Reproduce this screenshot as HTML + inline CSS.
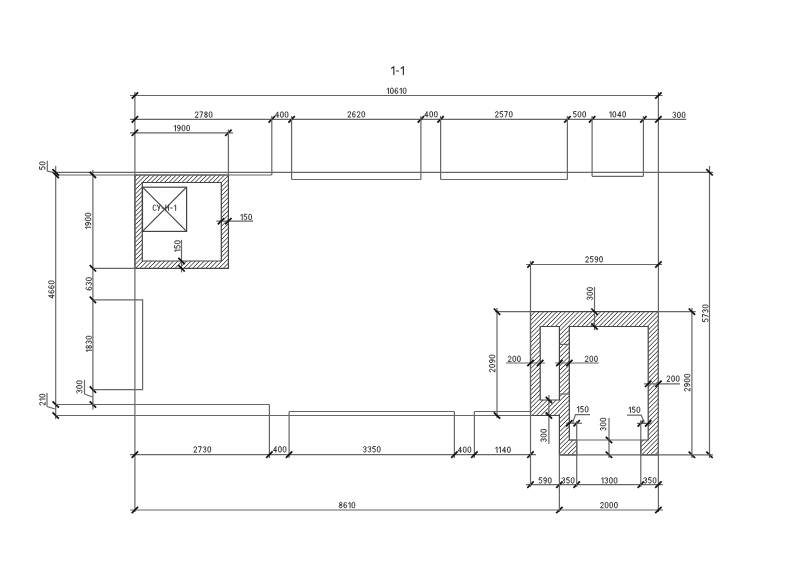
<!DOCTYPE html>
<html><head><meta charset="utf-8"><style>
html,body{margin:0;padding:0;background:#fff;}
svg{display:block;will-change:transform;}
.l{stroke:#666;stroke-width:1.2;fill:none;}
.w{stroke:#444;stroke-width:1.2;fill:none;}
.t{stroke:#111;stroke-width:1.7;}
.g path{fill:none;stroke:#333;vector-effect:non-scaling-stroke;stroke-linecap:round;stroke-linejoin:round;}
</style></head><body>
<svg width="799" height="565" viewBox="0 0 799 565">
<defs>
<pattern id="hatch" patternUnits="userSpaceOnUse" width="3.1" height="10" patternTransform="rotate(45)">
<line x1="0" y1="0" x2="0" y2="10" stroke="#2e2e2e" stroke-width="1.4"/>
</pattern>
</defs>
<rect width="799" height="565" fill="#fff"/>
<path d="M134.9,175.0 H228.4 V268.3 H134.9 Z M142.3,182.5 V261.0 H221.3 V182.5 Z" fill="url(#hatch)" fill-rule="evenodd" stroke="none"/>
<path d="M530.5,311.7 H658.4 V454.8 H640.8 V440.0 H648.2 V326.5 H569.3 V440.0 H576.7 V454.8 H559.4 V415.5 H530.5 Z M540.2,326.5 H559.4 V400.0 H540.2 Z" fill="url(#hatch)" fill-rule="evenodd" stroke="none"/>
<path class="w" d="M134.9,175.0 H228.4 V268.3 H134.9 Z M142.3,182.5 V261.0 H221.3 V182.5 Z" fill="none"/>
<path class="w" d="M530.5,311.7 H658.4 V454.8 H640.8 V440.0 H648.2 V326.5 H569.3 V440.0 H576.7 V454.8 H559.4 V415.5 H530.5 Z M540.2,326.5 H559.4 V400.0 H540.2 Z" fill="none"/>
<line class="l" x1="134.90" y1="92.00" x2="134.90" y2="512.00"/>
<line class="l" x1="658.40" y1="92.00" x2="658.40" y2="512.00"/>
<line class="l" x1="130.00" y1="95.50" x2="662.50" y2="95.50"/>
<line class="t" x1="131.70" y1="98.70" x2="138.10" y2="92.30"/>
<line class="t" x1="655.20" y1="98.70" x2="661.60" y2="92.30"/>
<g class="g" style="stroke-width:0.95"><path transform="translate(387.07,88.05) scale(1.000,0.917)" d="M0,1.3 L1.5,0 L1.5,6"/><path transform="translate(390.47,88.05) scale(0.917,0.917)" d="M0,1.4 Q0,0 1.5,0 Q3,0 3,1.4 L3,4.6 Q3,6 1.5,6 Q0,6 0,4.6 Z"/><path transform="translate(395.12,88.05) scale(0.917,0.917)" d="M2.8,0.5 Q2.3,0 1.5,0 Q0,0 0,3.2 L0,4.4 Q0,6 1.5,6 Q3,6 3,4.3 Q3,2.6 1.5,2.6 Q0.4,2.6 0,3.4"/><path transform="translate(399.77,88.05) scale(1.000,0.917)" d="M0,1.3 L1.5,0 L1.5,6"/><path transform="translate(403.17,88.05) scale(0.917,0.917)" d="M0,1.4 Q0,0 1.5,0 Q3,0 3,1.4 L3,4.6 Q3,6 1.5,6 Q0,6 0,4.6 Z"/></g>
<line class="l" x1="130.00" y1="119.40" x2="686.30" y2="119.40"/>
<line class="t" x1="131.70" y1="122.60" x2="138.10" y2="116.20"/>
<line class="t" x1="268.60" y1="122.60" x2="275.00" y2="116.20"/>
<line class="t" x1="288.40" y1="122.60" x2="294.80" y2="116.20"/>
<line class="t" x1="417.70" y1="122.60" x2="424.10" y2="116.20"/>
<line class="t" x1="437.40" y1="122.60" x2="443.80" y2="116.20"/>
<line class="t" x1="564.20" y1="122.60" x2="570.60" y2="116.20"/>
<line class="t" x1="588.90" y1="122.60" x2="595.30" y2="116.20"/>
<line class="t" x1="640.20" y1="122.60" x2="646.60" y2="116.20"/>
<line class="t" x1="655.20" y1="122.60" x2="661.60" y2="116.20"/>
<g class="g" style="stroke-width:0.95"><path transform="translate(195.28,111.85) scale(0.917,0.917)" d="M0,1.3 Q0.2,0 1.5,0 Q3,0 3,1.5 Q3,2.5 2,3.5 L0,6 L3,6"/><path transform="translate(199.93,111.85) scale(0.917,0.917)" d="M0,0 L3,0 L0.9,6"/><path transform="translate(204.58,111.85) scale(0.917,0.917)" d="M1.5,2.8 Q0.1,2.8 0.1,1.4 Q0.1,0 1.5,0 Q2.9,0 2.9,1.4 Q2.9,2.8 1.5,2.8 Q0,2.8 0,4.4 Q0,6 1.5,6 Q3,6 3,4.4 Q3,2.8 1.5,2.8 Z"/><path transform="translate(209.23,111.85) scale(0.917,0.917)" d="M0,1.4 Q0,0 1.5,0 Q3,0 3,1.4 L3,4.6 Q3,6 1.5,6 Q0,6 0,4.6 Z"/></g>
<g class="g" style="stroke-width:0.95"><path transform="translate(275.35,111.85) scale(1.082,0.917)" d="M2.3,6 L2.3,0 L0,4.3 L3,4.3"/><path transform="translate(280.50,111.85) scale(0.917,0.917)" d="M0,1.4 Q0,0 1.5,0 Q3,0 3,1.4 L3,4.6 Q3,6 1.5,6 Q0,6 0,4.6 Z"/><path transform="translate(285.15,111.85) scale(0.917,0.917)" d="M0,1.4 Q0,0 1.5,0 Q3,0 3,1.4 L3,4.6 Q3,6 1.5,6 Q0,6 0,4.6 Z"/></g>
<g class="g" style="stroke-width:0.95"><path transform="translate(347.90,111.55) scale(0.917,0.917)" d="M0,1.3 Q0.2,0 1.5,0 Q3,0 3,1.5 Q3,2.5 2,3.5 L0,6 L3,6"/><path transform="translate(352.55,111.55) scale(0.917,0.917)" d="M2.8,0.5 Q2.3,0 1.5,0 Q0,0 0,3.2 L0,4.4 Q0,6 1.5,6 Q3,6 3,4.3 Q3,2.6 1.5,2.6 Q0.4,2.6 0,3.4"/><path transform="translate(357.20,111.55) scale(0.917,0.917)" d="M0,1.3 Q0.2,0 1.5,0 Q3,0 3,1.5 Q3,2.5 2,3.5 L0,6 L3,6"/><path transform="translate(361.85,111.55) scale(0.917,0.917)" d="M0,1.4 Q0,0 1.5,0 Q3,0 3,1.4 L3,4.6 Q3,6 1.5,6 Q0,6 0,4.6 Z"/></g>
<g class="g" style="stroke-width:0.95"><path transform="translate(424.60,111.55) scale(1.082,0.917)" d="M2.3,6 L2.3,0 L0,4.3 L3,4.3"/><path transform="translate(429.75,111.55) scale(0.917,0.917)" d="M0,1.4 Q0,0 1.5,0 Q3,0 3,1.4 L3,4.6 Q3,6 1.5,6 Q0,6 0,4.6 Z"/><path transform="translate(434.40,111.55) scale(0.917,0.917)" d="M0,1.4 Q0,0 1.5,0 Q3,0 3,1.4 L3,4.6 Q3,6 1.5,6 Q0,6 0,4.6 Z"/></g>
<g class="g" style="stroke-width:0.95"><path transform="translate(495.40,111.55) scale(0.917,0.917)" d="M0,1.3 Q0.2,0 1.5,0 Q3,0 3,1.5 Q3,2.5 2,3.5 L0,6 L3,6"/><path transform="translate(500.05,111.55) scale(0.917,0.917)" d="M2.9,0 L0.3,0 L0.1,2.6 Q0.6,2.2 1.5,2.2 Q3,2.2 3,4.1 Q3,6 1.5,6 Q0.4,6 0,5.1"/><path transform="translate(504.70,111.55) scale(0.917,0.917)" d="M0,0 L3,0 L0.9,6"/><path transform="translate(509.35,111.55) scale(0.917,0.917)" d="M0,1.4 Q0,0 1.5,0 Q3,0 3,1.4 L3,4.6 Q3,6 1.5,6 Q0,6 0,4.6 Z"/></g>
<g class="g" style="stroke-width:0.95"><path transform="translate(573.48,111.55) scale(0.917,0.917)" d="M2.9,0 L0.3,0 L0.1,2.6 Q0.6,2.2 1.5,2.2 Q3,2.2 3,4.1 Q3,6 1.5,6 Q0.4,6 0,5.1"/><path transform="translate(578.12,111.55) scale(0.917,0.917)" d="M0,1.4 Q0,0 1.5,0 Q3,0 3,1.4 L3,4.6 Q3,6 1.5,6 Q0,6 0,4.6 Z"/><path transform="translate(582.77,111.55) scale(0.917,0.917)" d="M0,1.4 Q0,0 1.5,0 Q3,0 3,1.4 L3,4.6 Q3,6 1.5,6 Q0,6 0,4.6 Z"/></g>
<g class="g" style="stroke-width:0.95"><path transform="translate(609.53,111.55) scale(1.000,0.917)" d="M0,1.3 L1.5,0 L1.5,6"/><path transform="translate(612.93,111.55) scale(0.917,0.917)" d="M0,1.4 Q0,0 1.5,0 Q3,0 3,1.4 L3,4.6 Q3,6 1.5,6 Q0,6 0,4.6 Z"/><path transform="translate(617.58,111.55) scale(1.082,0.917)" d="M2.3,6 L2.3,0 L0,4.3 L3,4.3"/><path transform="translate(622.72,111.55) scale(0.917,0.917)" d="M0,1.4 Q0,0 1.5,0 Q3,0 3,1.4 L3,4.6 Q3,6 1.5,6 Q0,6 0,4.6 Z"/></g>
<g class="g" style="stroke-width:0.95"><path transform="translate(672.90,112.15) scale(0.917,0.917)" d="M0,0.9 Q0.4,0 1.5,0 Q3,0 3,1.4 Q3,2.8 1.3,2.8 L1.5,2.8 Q3,2.8 3,4.4 Q3,6 1.5,6 Q0.4,6 0,5.1"/><path transform="translate(677.55,112.15) scale(0.917,0.917)" d="M0,1.4 Q0,0 1.5,0 Q3,0 3,1.4 L3,4.6 Q3,6 1.5,6 Q0,6 0,4.6 Z"/><path transform="translate(682.20,112.15) scale(0.917,0.917)" d="M0,1.4 Q0,0 1.5,0 Q3,0 3,1.4 L3,4.6 Q3,6 1.5,6 Q0,6 0,4.6 Z"/></g>
<line class="l" x1="130.00" y1="132.80" x2="233.00" y2="132.80"/>
<line class="t" x1="131.70" y1="136.00" x2="138.10" y2="129.60"/>
<line class="t" x1="225.20" y1="136.00" x2="231.60" y2="129.60"/>
<g class="g" style="stroke-width:0.95"><path transform="translate(174.03,125.30) scale(1.000,0.917)" d="M0,1.3 L1.5,0 L1.5,6"/><path transform="translate(177.43,125.30) scale(0.917,0.917)" d="M0.3,5.4 Q0.8,6 1.5,6 Q3,6 3,3 L3,1.7 Q3,0 1.5,0 Q0,0 0,1.8 Q0,3.5 1.5,3.5 Q2.7,3.5 3,2.5"/><path transform="translate(182.08,125.30) scale(0.917,0.917)" d="M0,1.4 Q0,0 1.5,0 Q3,0 3,1.4 L3,4.6 Q3,6 1.5,6 Q0,6 0,4.6 Z"/><path transform="translate(186.73,125.30) scale(0.917,0.917)" d="M0,1.4 Q0,0 1.5,0 Q3,0 3,1.4 L3,4.6 Q3,6 1.5,6 Q0,6 0,4.6 Z"/></g>
<line class="l" x1="228.40" y1="129.50" x2="228.40" y2="175.00"/>
<line class="l" x1="271.80" y1="116.00" x2="271.80" y2="175.00"/>
<line class="l" x1="291.60" y1="116.00" x2="291.60" y2="179.50"/>
<line class="l" x1="420.90" y1="116.00" x2="420.90" y2="179.50"/>
<line class="l" x1="440.60" y1="116.00" x2="440.60" y2="179.50"/>
<line class="l" x1="567.40" y1="116.00" x2="567.40" y2="179.50"/>
<line class="l" x1="592.10" y1="116.00" x2="592.10" y2="176.30"/>
<line class="l" x1="643.40" y1="116.00" x2="643.40" y2="176.30"/>
<line class="l" x1="55.70" y1="172.30" x2="713.00" y2="172.30"/>
<line class="l" x1="55.70" y1="175.00" x2="271.80" y2="175.00"/>
<line class="l" x1="291.60" y1="179.50" x2="420.90" y2="179.50"/>
<line class="l" x1="440.60" y1="179.50" x2="567.40" y2="179.50"/>
<line class="l" x1="592.10" y1="176.30" x2="643.40" y2="176.30"/>
<rect class="w" x="142.5" y="187.2" width="44.1" height="44.2" fill="none"/>
<line class="w" x1="142.50" y1="187.20" x2="186.60" y2="231.40"/>
<line class="w" x1="186.60" y1="187.20" x2="142.50" y2="231.40"/>
<g class="g" style="stroke-width:0.9"><path transform="translate(153.15,205.00) scale(0.933,0.917)" d="M3,1 Q2.6,0 1.5,0 Q0,0 0,2 L0,4 Q0,6 1.5,6 Q2.6,6 3,5"/><path transform="translate(157.35,205.00) scale(0.933,0.917)" d="M0,0 L1.5,3.6 M3,0 L1.2,6"/><path transform="translate(161.55,205.00) scale(0.933,0.917)" d="M0.6,3.3 L2.4,3.3"/><path transform="translate(165.75,205.00) scale(0.933,0.917)" d="M0,0 L0,6 M3,0 L3,6 M0,3 L3,3"/><path transform="translate(169.95,205.00) scale(0.933,0.917)" d="M0.6,3.3 L2.4,3.3"/><path transform="translate(174.15,205.00) scale(1.000,0.917)" d="M0,1.3 L1.5,0 L1.5,6"/></g>
<line class="l" x1="216.40" y1="221.20" x2="253.00" y2="221.20"/>
<line class="t" x1="217.80" y1="224.40" x2="224.20" y2="218.00"/>
<line class="t" x1="225.20" y1="224.40" x2="231.60" y2="218.00"/>
<g class="g" style="stroke-width:0.95"><path transform="translate(240.70,214.25) scale(1.000,0.917)" d="M0,1.3 L1.5,0 L1.5,6"/><path transform="translate(244.10,214.25) scale(0.917,0.917)" d="M2.9,0 L0.3,0 L0.1,2.6 Q0.6,2.2 1.5,2.2 Q3,2.2 3,4.1 Q3,6 1.5,6 Q0.4,6 0,5.1"/><path transform="translate(248.75,214.25) scale(0.917,0.917)" d="M0,1.4 Q0,0 1.5,0 Q3,0 3,1.4 L3,4.6 Q3,6 1.5,6 Q0,6 0,4.6 Z"/></g>
<line class="l" x1="181.50" y1="239.80" x2="181.50" y2="272.40"/>
<line class="t" x1="178.30" y1="257.80" x2="184.70" y2="264.20"/>
<line class="t" x1="178.30" y1="265.10" x2="184.70" y2="271.50"/>
<g class="g" style="stroke-width:0.95" transform="translate(180.60,246.25) rotate(-90)"><path transform="translate(-5.40,-5.95) scale(1.000,0.917)" d="M0,1.3 L1.5,0 L1.5,6"/><path transform="translate(-2.00,-5.95) scale(0.917,0.917)" d="M2.9,0 L0.3,0 L0.1,2.6 Q0.6,2.2 1.5,2.2 Q3,2.2 3,4.1 Q3,6 1.5,6 Q0.4,6 0,5.1"/><path transform="translate(2.65,-5.95) scale(0.917,0.917)" d="M0,1.4 Q0,0 1.5,0 Q3,0 3,1.4 L3,4.6 Q3,6 1.5,6 Q0,6 0,4.6 Z"/></g>
<line class="l" x1="55.70" y1="166.00" x2="55.70" y2="419.00"/>
<line class="t" x1="52.50" y1="169.10" x2="58.90" y2="175.50"/>
<line class="t" x1="52.50" y1="171.80" x2="58.90" y2="178.20"/>
<line class="t" x1="52.50" y1="401.30" x2="58.90" y2="407.70"/>
<line class="t" x1="52.50" y1="412.30" x2="58.90" y2="418.70"/>
<g class="g" style="stroke-width:0.95" transform="translate(45.50,165.75) rotate(-90)"><path transform="translate(-3.70,-5.95) scale(0.917,0.917)" d="M2.9,0 L0.3,0 L0.1,2.6 Q0.6,2.2 1.5,2.2 Q3,2.2 3,4.1 Q3,6 1.5,6 Q0.4,6 0,5.1"/><path transform="translate(0.95,-5.95) scale(0.917,0.917)" d="M0,1.4 Q0,0 1.5,0 Q3,0 3,1.4 L3,4.6 Q3,6 1.5,6 Q0,6 0,4.6 Z"/></g>
<line class="l" x1="47.30" y1="160.70" x2="47.30" y2="171.20"/>
<line class="l" x1="47.30" y1="171.20" x2="53.80" y2="172.50"/>
<g class="g" style="stroke-width:0.95" transform="translate(54.50,289.62) rotate(-90)"><path transform="translate(-8.60,-5.95) scale(1.082,0.917)" d="M2.3,6 L2.3,0 L0,4.3 L3,4.3"/><path transform="translate(-3.45,-5.95) scale(0.917,0.917)" d="M2.8,0.5 Q2.3,0 1.5,0 Q0,0 0,3.2 L0,4.4 Q0,6 1.5,6 Q3,6 3,4.3 Q3,2.6 1.5,2.6 Q0.4,2.6 0,3.4"/><path transform="translate(1.20,-5.95) scale(0.917,0.917)" d="M2.8,0.5 Q2.3,0 1.5,0 Q0,0 0,3.2 L0,4.4 Q0,6 1.5,6 Q3,6 3,4.3 Q3,2.6 1.5,2.6 Q0.4,2.6 0,3.4"/><path transform="translate(5.85,-5.95) scale(0.917,0.917)" d="M0,1.4 Q0,0 1.5,0 Q3,0 3,1.4 L3,4.6 Q3,6 1.5,6 Q0,6 0,4.6 Z"/></g>
<g class="g" style="stroke-width:0.95" transform="translate(45.50,399.75) rotate(-90)"><path transform="translate(-5.40,-5.95) scale(0.917,0.917)" d="M0,1.3 Q0.2,0 1.5,0 Q3,0 3,1.5 Q3,2.5 2,3.5 L0,6 L3,6"/><path transform="translate(-0.75,-5.95) scale(1.000,0.917)" d="M0,1.3 L1.5,0 L1.5,6"/><path transform="translate(2.65,-5.95) scale(0.917,0.917)" d="M0,1.4 Q0,0 1.5,0 Q3,0 3,1.4 L3,4.6 Q3,6 1.5,6 Q0,6 0,4.6 Z"/></g>
<line class="l" x1="47.00" y1="393.00" x2="47.00" y2="406.50"/>
<line class="l" x1="47.00" y1="406.50" x2="55.00" y2="409.00"/>
<line class="l" x1="92.90" y1="170.00" x2="92.90" y2="409.50"/>
<line class="t" x1="89.70" y1="171.80" x2="96.10" y2="178.20"/>
<line class="t" x1="89.70" y1="265.10" x2="96.10" y2="271.50"/>
<line class="t" x1="89.70" y1="296.70" x2="96.10" y2="303.10"/>
<line class="t" x1="89.70" y1="386.40" x2="96.10" y2="392.80"/>
<line class="t" x1="89.70" y1="401.30" x2="96.10" y2="407.70"/>
<g class="g" style="stroke-width:0.95" transform="translate(91.25,221.00) rotate(-90)"><path transform="translate(-7.72,-5.95) scale(1.000,0.917)" d="M0,1.3 L1.5,0 L1.5,6"/><path transform="translate(-4.32,-5.95) scale(0.917,0.917)" d="M0.3,5.4 Q0.8,6 1.5,6 Q3,6 3,3 L3,1.7 Q3,0 1.5,0 Q0,0 0,1.8 Q0,3.5 1.5,3.5 Q2.7,3.5 3,2.5"/><path transform="translate(0.33,-5.95) scale(0.917,0.917)" d="M0,1.4 Q0,0 1.5,0 Q3,0 3,1.4 L3,4.6 Q3,6 1.5,6 Q0,6 0,4.6 Z"/><path transform="translate(4.98,-5.95) scale(0.917,0.917)" d="M0,1.4 Q0,0 1.5,0 Q3,0 3,1.4 L3,4.6 Q3,6 1.5,6 Q0,6 0,4.6 Z"/></g>
<g class="g" style="stroke-width:0.95" transform="translate(92.00,283.85) rotate(-90)"><path transform="translate(-6.03,-5.95) scale(0.917,0.917)" d="M2.8,0.5 Q2.3,0 1.5,0 Q0,0 0,3.2 L0,4.4 Q0,6 1.5,6 Q3,6 3,4.3 Q3,2.6 1.5,2.6 Q0.4,2.6 0,3.4"/><path transform="translate(-1.38,-5.95) scale(0.917,0.917)" d="M0,0.9 Q0.4,0 1.5,0 Q3,0 3,1.4 Q3,2.8 1.3,2.8 L1.5,2.8 Q3,2.8 3,4.4 Q3,6 1.5,6 Q0.4,6 0,5.1"/><path transform="translate(3.28,-5.95) scale(0.917,0.917)" d="M0,1.4 Q0,0 1.5,0 Q3,0 3,1.4 L3,4.6 Q3,6 1.5,6 Q0,6 0,4.6 Z"/></g>
<g class="g" style="stroke-width:0.95" transform="translate(92.00,344.00) rotate(-90)"><path transform="translate(-7.72,-5.95) scale(1.000,0.917)" d="M0,1.3 L1.5,0 L1.5,6"/><path transform="translate(-4.32,-5.95) scale(0.917,0.917)" d="M1.5,2.8 Q0.1,2.8 0.1,1.4 Q0.1,0 1.5,0 Q2.9,0 2.9,1.4 Q2.9,2.8 1.5,2.8 Q0,2.8 0,4.4 Q0,6 1.5,6 Q3,6 3,4.4 Q3,2.8 1.5,2.8 Z"/><path transform="translate(0.33,-5.95) scale(0.917,0.917)" d="M0,0.9 Q0.4,0 1.5,0 Q3,0 3,1.4 Q3,2.8 1.3,2.8 L1.5,2.8 Q3,2.8 3,4.4 Q3,6 1.5,6 Q0.4,6 0,5.1"/><path transform="translate(4.98,-5.95) scale(0.917,0.917)" d="M0,1.4 Q0,0 1.5,0 Q3,0 3,1.4 L3,4.6 Q3,6 1.5,6 Q0,6 0,4.6 Z"/></g>
<g class="g" style="stroke-width:0.95" transform="translate(82.50,387.00) rotate(-90)"><path transform="translate(-6.03,-5.95) scale(0.917,0.917)" d="M0,0.9 Q0.4,0 1.5,0 Q3,0 3,1.4 Q3,2.8 1.3,2.8 L1.5,2.8 Q3,2.8 3,4.4 Q3,6 1.5,6 Q0.4,6 0,5.1"/><path transform="translate(-1.38,-5.95) scale(0.917,0.917)" d="M0,1.4 Q0,0 1.5,0 Q3,0 3,1.4 L3,4.6 Q3,6 1.5,6 Q0,6 0,4.6 Z"/><path transform="translate(3.28,-5.95) scale(0.917,0.917)" d="M0,1.4 Q0,0 1.5,0 Q3,0 3,1.4 L3,4.6 Q3,6 1.5,6 Q0,6 0,4.6 Z"/></g>
<line class="l" x1="84.50" y1="380.00" x2="84.50" y2="394.00"/>
<line class="l" x1="84.50" y1="394.00" x2="92.50" y2="397.00"/>
<line class="l" x1="92.90" y1="268.30" x2="134.90" y2="268.30"/>
<polyline class="l" points="92.90,299.90 142.60,299.90 142.60,389.60 92.90,389.60"/>
<line class="l" x1="55.70" y1="404.50" x2="269.40" y2="404.50"/>
<line class="l" x1="269.40" y1="404.50" x2="269.40" y2="458.00"/>
<line class="l" x1="55.70" y1="415.50" x2="530.50" y2="415.50"/>
<line class="l" x1="289.10" y1="411.50" x2="289.10" y2="458.00"/>
<line class="l" x1="289.10" y1="411.50" x2="454.40" y2="411.50"/>
<line class="l" x1="454.40" y1="411.50" x2="454.40" y2="458.00"/>
<line class="l" x1="474.40" y1="411.50" x2="474.40" y2="458.00"/>
<line class="l" x1="474.40" y1="411.50" x2="530.50" y2="411.50"/>
<line class="l" x1="130.00" y1="454.60" x2="536.00" y2="454.60"/>
<line class="t" x1="131.70" y1="457.80" x2="138.10" y2="451.40"/>
<line class="t" x1="266.20" y1="457.80" x2="272.60" y2="451.40"/>
<line class="t" x1="285.90" y1="457.80" x2="292.30" y2="451.40"/>
<line class="t" x1="451.20" y1="457.80" x2="457.60" y2="451.40"/>
<line class="t" x1="471.20" y1="457.80" x2="477.60" y2="451.40"/>
<line class="t" x1="527.30" y1="457.80" x2="533.70" y2="451.40"/>
<g class="g" style="stroke-width:0.95"><path transform="translate(193.90,446.65) scale(0.917,0.917)" d="M0,1.3 Q0.2,0 1.5,0 Q3,0 3,1.5 Q3,2.5 2,3.5 L0,6 L3,6"/><path transform="translate(198.55,446.65) scale(0.917,0.917)" d="M0,0 L3,0 L0.9,6"/><path transform="translate(203.20,446.65) scale(0.917,0.917)" d="M0,0.9 Q0.4,0 1.5,0 Q3,0 3,1.4 Q3,2.8 1.3,2.8 L1.5,2.8 Q3,2.8 3,4.4 Q3,6 1.5,6 Q0.4,6 0,5.1"/><path transform="translate(207.85,446.65) scale(0.917,0.917)" d="M0,1.4 Q0,0 1.5,0 Q3,0 3,1.4 L3,4.6 Q3,6 1.5,6 Q0,6 0,4.6 Z"/></g>
<g class="g" style="stroke-width:0.95"><path transform="translate(273.38,446.55) scale(1.082,0.917)" d="M2.3,6 L2.3,0 L0,4.3 L3,4.3"/><path transform="translate(278.52,446.55) scale(0.917,0.917)" d="M0,1.4 Q0,0 1.5,0 Q3,0 3,1.4 L3,4.6 Q3,6 1.5,6 Q0,6 0,4.6 Z"/><path transform="translate(283.17,446.55) scale(0.917,0.917)" d="M0,1.4 Q0,0 1.5,0 Q3,0 3,1.4 L3,4.6 Q3,6 1.5,6 Q0,6 0,4.6 Z"/></g>
<g class="g" style="stroke-width:0.95"><path transform="translate(363.40,446.55) scale(0.917,0.917)" d="M0,0.9 Q0.4,0 1.5,0 Q3,0 3,1.4 Q3,2.8 1.3,2.8 L1.5,2.8 Q3,2.8 3,4.4 Q3,6 1.5,6 Q0.4,6 0,5.1"/><path transform="translate(368.05,446.55) scale(0.917,0.917)" d="M0,0.9 Q0.4,0 1.5,0 Q3,0 3,1.4 Q3,2.8 1.3,2.8 L1.5,2.8 Q3,2.8 3,4.4 Q3,6 1.5,6 Q0.4,6 0,5.1"/><path transform="translate(372.70,446.55) scale(0.917,0.917)" d="M2.9,0 L0.3,0 L0.1,2.6 Q0.6,2.2 1.5,2.2 Q3,2.2 3,4.1 Q3,6 1.5,6 Q0.4,6 0,5.1"/><path transform="translate(377.35,446.55) scale(0.917,0.917)" d="M0,1.4 Q0,0 1.5,0 Q3,0 3,1.4 L3,4.6 Q3,6 1.5,6 Q0,6 0,4.6 Z"/></g>
<g class="g" style="stroke-width:0.95"><path transform="translate(458.18,446.95) scale(1.082,0.917)" d="M2.3,6 L2.3,0 L0,4.3 L3,4.3"/><path transform="translate(463.32,446.95) scale(0.917,0.917)" d="M0,1.4 Q0,0 1.5,0 Q3,0 3,1.4 L3,4.6 Q3,6 1.5,6 Q0,6 0,4.6 Z"/><path transform="translate(467.97,446.95) scale(0.917,0.917)" d="M0,1.4 Q0,0 1.5,0 Q3,0 3,1.4 L3,4.6 Q3,6 1.5,6 Q0,6 0,4.6 Z"/></g>
<g class="g" style="stroke-width:0.95"><path transform="translate(495.55,446.95) scale(1.000,0.917)" d="M0,1.3 L1.5,0 L1.5,6"/><path transform="translate(498.95,446.95) scale(1.000,0.917)" d="M0,1.3 L1.5,0 L1.5,6"/><path transform="translate(502.35,446.95) scale(1.082,0.917)" d="M2.3,6 L2.3,0 L0,4.3 L3,4.3"/><path transform="translate(507.50,446.95) scale(0.917,0.917)" d="M0,1.4 Q0,0 1.5,0 Q3,0 3,1.4 L3,4.6 Q3,6 1.5,6 Q0,6 0,4.6 Z"/></g>
<line class="l" x1="526.00" y1="484.60" x2="662.80" y2="484.60"/>
<line class="t" x1="527.30" y1="487.80" x2="533.70" y2="481.40"/>
<line class="t" x1="556.20" y1="487.80" x2="562.60" y2="481.40"/>
<line class="t" x1="573.50" y1="487.80" x2="579.90" y2="481.40"/>
<line class="t" x1="637.60" y1="487.80" x2="644.00" y2="481.40"/>
<line class="t" x1="655.20" y1="487.80" x2="661.60" y2="481.40"/>
<g class="g" style="stroke-width:0.95"><path transform="translate(539.08,477.65) scale(0.917,0.917)" d="M2.9,0 L0.3,0 L0.1,2.6 Q0.6,2.2 1.5,2.2 Q3,2.2 3,4.1 Q3,6 1.5,6 Q0.4,6 0,5.1"/><path transform="translate(543.73,477.65) scale(0.917,0.917)" d="M0.3,5.4 Q0.8,6 1.5,6 Q3,6 3,3 L3,1.7 Q3,0 1.5,0 Q0,0 0,1.8 Q0,3.5 1.5,3.5 Q2.7,3.5 3,2.5"/><path transform="translate(548.38,477.65) scale(0.917,0.917)" d="M0,1.4 Q0,0 1.5,0 Q3,0 3,1.4 L3,4.6 Q3,6 1.5,6 Q0,6 0,4.6 Z"/></g>
<g class="g" style="stroke-width:0.95"><path transform="translate(561.98,477.65) scale(0.917,0.917)" d="M0,0.9 Q0.4,0 1.5,0 Q3,0 3,1.4 Q3,2.8 1.3,2.8 L1.5,2.8 Q3,2.8 3,4.4 Q3,6 1.5,6 Q0.4,6 0,5.1"/><path transform="translate(566.62,477.65) scale(0.917,0.917)" d="M2.9,0 L0.3,0 L0.1,2.6 Q0.6,2.2 1.5,2.2 Q3,2.2 3,4.1 Q3,6 1.5,6 Q0.4,6 0,5.1"/><path transform="translate(571.27,477.65) scale(0.917,0.917)" d="M0,1.4 Q0,0 1.5,0 Q3,0 3,1.4 L3,4.6 Q3,6 1.5,6 Q0,6 0,4.6 Z"/></g>
<g class="g" style="stroke-width:0.95"><path transform="translate(601.48,477.65) scale(1.000,0.917)" d="M0,1.3 L1.5,0 L1.5,6"/><path transform="translate(604.88,477.65) scale(0.917,0.917)" d="M0,0.9 Q0.4,0 1.5,0 Q3,0 3,1.4 Q3,2.8 1.3,2.8 L1.5,2.8 Q3,2.8 3,4.4 Q3,6 1.5,6 Q0.4,6 0,5.1"/><path transform="translate(609.52,477.65) scale(0.917,0.917)" d="M0,1.4 Q0,0 1.5,0 Q3,0 3,1.4 L3,4.6 Q3,6 1.5,6 Q0,6 0,4.6 Z"/><path transform="translate(614.17,477.65) scale(0.917,0.917)" d="M0,1.4 Q0,0 1.5,0 Q3,0 3,1.4 L3,4.6 Q3,6 1.5,6 Q0,6 0,4.6 Z"/></g>
<g class="g" style="stroke-width:0.95"><path transform="translate(643.88,477.65) scale(0.917,0.917)" d="M0,0.9 Q0.4,0 1.5,0 Q3,0 3,1.4 Q3,2.8 1.3,2.8 L1.5,2.8 Q3,2.8 3,4.4 Q3,6 1.5,6 Q0.4,6 0,5.1"/><path transform="translate(648.52,477.65) scale(0.917,0.917)" d="M2.9,0 L0.3,0 L0.1,2.6 Q0.6,2.2 1.5,2.2 Q3,2.2 3,4.1 Q3,6 1.5,6 Q0.4,6 0,5.1"/><path transform="translate(653.17,477.65) scale(0.917,0.917)" d="M0,1.4 Q0,0 1.5,0 Q3,0 3,1.4 L3,4.6 Q3,6 1.5,6 Q0,6 0,4.6 Z"/></g>
<line class="l" x1="130.00" y1="510.00" x2="663.00" y2="510.00"/>
<line class="t" x1="131.70" y1="513.20" x2="138.10" y2="506.80"/>
<line class="t" x1="556.20" y1="513.20" x2="562.60" y2="506.80"/>
<line class="t" x1="655.20" y1="513.20" x2="661.60" y2="506.80"/>
<g class="g" style="stroke-width:0.95"><path transform="translate(339.27,502.35) scale(0.917,0.917)" d="M1.5,2.8 Q0.1,2.8 0.1,1.4 Q0.1,0 1.5,0 Q2.9,0 2.9,1.4 Q2.9,2.8 1.5,2.8 Q0,2.8 0,4.4 Q0,6 1.5,6 Q3,6 3,4.4 Q3,2.8 1.5,2.8 Z"/><path transform="translate(343.92,502.35) scale(0.917,0.917)" d="M2.8,0.5 Q2.3,0 1.5,0 Q0,0 0,3.2 L0,4.4 Q0,6 1.5,6 Q3,6 3,4.3 Q3,2.6 1.5,2.6 Q0.4,2.6 0,3.4"/><path transform="translate(348.57,502.35) scale(1.000,0.917)" d="M0,1.3 L1.5,0 L1.5,6"/><path transform="translate(351.97,502.35) scale(0.917,0.917)" d="M0,1.4 Q0,0 1.5,0 Q3,0 3,1.4 L3,4.6 Q3,6 1.5,6 Q0,6 0,4.6 Z"/></g>
<g class="g" style="stroke-width:0.95"><path transform="translate(600.55,502.35) scale(0.917,0.917)" d="M0,1.3 Q0.2,0 1.5,0 Q3,0 3,1.5 Q3,2.5 2,3.5 L0,6 L3,6"/><path transform="translate(605.20,502.35) scale(0.917,0.917)" d="M0,1.4 Q0,0 1.5,0 Q3,0 3,1.4 L3,4.6 Q3,6 1.5,6 Q0,6 0,4.6 Z"/><path transform="translate(609.85,502.35) scale(0.917,0.917)" d="M0,1.4 Q0,0 1.5,0 Q3,0 3,1.4 L3,4.6 Q3,6 1.5,6 Q0,6 0,4.6 Z"/><path transform="translate(614.50,502.35) scale(0.917,0.917)" d="M0,1.4 Q0,0 1.5,0 Q3,0 3,1.4 L3,4.6 Q3,6 1.5,6 Q0,6 0,4.6 Z"/></g>
<line class="l" x1="526.00" y1="264.50" x2="662.00" y2="264.50"/>
<line class="t" x1="527.30" y1="267.70" x2="533.70" y2="261.30"/>
<line class="t" x1="655.20" y1="267.70" x2="661.60" y2="261.30"/>
<g class="g" style="stroke-width:0.95"><path transform="translate(585.65,256.55) scale(0.917,0.917)" d="M0,1.3 Q0.2,0 1.5,0 Q3,0 3,1.5 Q3,2.5 2,3.5 L0,6 L3,6"/><path transform="translate(590.30,256.55) scale(0.917,0.917)" d="M2.9,0 L0.3,0 L0.1,2.6 Q0.6,2.2 1.5,2.2 Q3,2.2 3,4.1 Q3,6 1.5,6 Q0.4,6 0,5.1"/><path transform="translate(594.95,256.55) scale(0.917,0.917)" d="M0.3,5.4 Q0.8,6 1.5,6 Q3,6 3,3 L3,1.7 Q3,0 1.5,0 Q0,0 0,1.8 Q0,3.5 1.5,3.5 Q2.7,3.5 3,2.5"/><path transform="translate(599.60,256.55) scale(0.917,0.917)" d="M0,1.4 Q0,0 1.5,0 Q3,0 3,1.4 L3,4.6 Q3,6 1.5,6 Q0,6 0,4.6 Z"/></g>
<line class="l" x1="530.50" y1="261.00" x2="530.50" y2="487.00"/>
<line class="l" x1="495.00" y1="311.70" x2="530.50" y2="311.70"/>
<line class="l" x1="658.40" y1="311.70" x2="695.70" y2="311.70"/>
<line class="l" x1="497.00" y1="308.00" x2="497.00" y2="418.00"/>
<line class="t" x1="493.80" y1="308.50" x2="500.20" y2="314.90"/>
<line class="t" x1="493.80" y1="412.30" x2="500.20" y2="418.70"/>
<g class="g" style="stroke-width:0.95" transform="translate(495.30,363.60) rotate(-90)"><path transform="translate(-8.35,-5.95) scale(0.917,0.917)" d="M0,1.3 Q0.2,0 1.5,0 Q3,0 3,1.5 Q3,2.5 2,3.5 L0,6 L3,6"/><path transform="translate(-3.70,-5.95) scale(0.917,0.917)" d="M0,1.4 Q0,0 1.5,0 Q3,0 3,1.4 L3,4.6 Q3,6 1.5,6 Q0,6 0,4.6 Z"/><path transform="translate(0.95,-5.95) scale(0.917,0.917)" d="M0.3,5.4 Q0.8,6 1.5,6 Q3,6 3,3 L3,1.7 Q3,0 1.5,0 Q0,0 0,1.8 Q0,3.5 1.5,3.5 Q2.7,3.5 3,2.5"/><path transform="translate(5.60,-5.95) scale(0.917,0.917)" d="M0,1.4 Q0,0 1.5,0 Q3,0 3,1.4 L3,4.6 Q3,6 1.5,6 Q0,6 0,4.6 Z"/></g>
<line class="l" x1="594.50" y1="287.00" x2="594.50" y2="330.00"/>
<line class="t" x1="591.30" y1="308.50" x2="597.70" y2="314.90"/>
<line class="t" x1="591.30" y1="323.30" x2="597.70" y2="329.70"/>
<g class="g" style="stroke-width:0.95" transform="translate(593.00,293.75) rotate(-90)"><path transform="translate(-6.03,-5.95) scale(0.917,0.917)" d="M0,0.9 Q0.4,0 1.5,0 Q3,0 3,1.4 Q3,2.8 1.3,2.8 L1.5,2.8 Q3,2.8 3,4.4 Q3,6 1.5,6 Q0.4,6 0,5.1"/><path transform="translate(-1.38,-5.95) scale(0.917,0.917)" d="M0,1.4 Q0,0 1.5,0 Q3,0 3,1.4 L3,4.6 Q3,6 1.5,6 Q0,6 0,4.6 Z"/><path transform="translate(3.28,-5.95) scale(0.917,0.917)" d="M0,1.4 Q0,0 1.5,0 Q3,0 3,1.4 L3,4.6 Q3,6 1.5,6 Q0,6 0,4.6 Z"/></g>
<line class="l" x1="506.00" y1="363.00" x2="545.00" y2="363.00"/>
<line class="t" x1="527.30" y1="366.20" x2="533.70" y2="359.80"/>
<line class="t" x1="537.00" y1="366.20" x2="543.40" y2="359.80"/>
<g class="g" style="stroke-width:0.95"><path transform="translate(508.23,356.05) scale(0.917,0.917)" d="M0,1.3 Q0.2,0 1.5,0 Q3,0 3,1.5 Q3,2.5 2,3.5 L0,6 L3,6"/><path transform="translate(512.88,356.05) scale(0.917,0.917)" d="M0,1.4 Q0,0 1.5,0 Q3,0 3,1.4 L3,4.6 Q3,6 1.5,6 Q0,6 0,4.6 Z"/><path transform="translate(517.52,356.05) scale(0.917,0.917)" d="M0,1.4 Q0,0 1.5,0 Q3,0 3,1.4 L3,4.6 Q3,6 1.5,6 Q0,6 0,4.6 Z"/></g>
<line class="l" x1="555.00" y1="363.00" x2="598.75" y2="363.00"/>
<line class="t" x1="556.20" y1="366.20" x2="562.60" y2="359.80"/>
<line class="t" x1="566.10" y1="366.20" x2="572.50" y2="359.80"/>
<g class="g" style="stroke-width:0.95"><path transform="translate(585.23,356.05) scale(0.917,0.917)" d="M0,1.3 Q0.2,0 1.5,0 Q3,0 3,1.5 Q3,2.5 2,3.5 L0,6 L3,6"/><path transform="translate(589.88,356.05) scale(0.917,0.917)" d="M0,1.4 Q0,0 1.5,0 Q3,0 3,1.4 L3,4.6 Q3,6 1.5,6 Q0,6 0,4.6 Z"/><path transform="translate(594.52,356.05) scale(0.917,0.917)" d="M0,1.4 Q0,0 1.5,0 Q3,0 3,1.4 L3,4.6 Q3,6 1.5,6 Q0,6 0,4.6 Z"/></g>
<line class="l" x1="644.00" y1="383.80" x2="680.00" y2="383.80"/>
<line class="t" x1="645.00" y1="387.00" x2="651.40" y2="380.60"/>
<line class="t" x1="655.20" y1="387.00" x2="661.60" y2="380.60"/>
<g class="g" style="stroke-width:0.95"><path transform="translate(667.02,375.85) scale(0.917,0.917)" d="M0,1.3 Q0.2,0 1.5,0 Q3,0 3,1.5 Q3,2.5 2,3.5 L0,6 L3,6"/><path transform="translate(671.67,375.85) scale(0.917,0.917)" d="M0,1.4 Q0,0 1.5,0 Q3,0 3,1.4 L3,4.6 Q3,6 1.5,6 Q0,6 0,4.6 Z"/><path transform="translate(676.32,375.85) scale(0.917,0.917)" d="M0,1.4 Q0,0 1.5,0 Q3,0 3,1.4 L3,4.6 Q3,6 1.5,6 Q0,6 0,4.6 Z"/></g>
<line class="l" x1="548.90" y1="395.00" x2="548.90" y2="444.00"/>
<line class="t" x1="545.70" y1="396.80" x2="552.10" y2="403.20"/>
<line class="t" x1="545.70" y1="412.30" x2="552.10" y2="418.70"/>
<g class="g" style="stroke-width:0.95" transform="translate(546.80,435.50) rotate(-90)"><path transform="translate(-6.03,-5.95) scale(0.917,0.917)" d="M0,0.9 Q0.4,0 1.5,0 Q3,0 3,1.4 Q3,2.8 1.3,2.8 L1.5,2.8 Q3,2.8 3,4.4 Q3,6 1.5,6 Q0.4,6 0,5.1"/><path transform="translate(-1.38,-5.95) scale(0.917,0.917)" d="M0,1.4 Q0,0 1.5,0 Q3,0 3,1.4 L3,4.6 Q3,6 1.5,6 Q0,6 0,4.6 Z"/><path transform="translate(3.28,-5.95) scale(0.917,0.917)" d="M0,1.4 Q0,0 1.5,0 Q3,0 3,1.4 L3,4.6 Q3,6 1.5,6 Q0,6 0,4.6 Z"/></g>
<line class="l" x1="566.00" y1="423.20" x2="582.00" y2="423.20"/>
<line class="t" x1="566.10" y1="426.40" x2="572.50" y2="420.00"/>
<line class="t" x1="573.50" y1="426.40" x2="579.90" y2="420.00"/>
<polyline class="l" points="572.50,423.20 575.50,414.60 590.00,414.60"/>
<g class="g" style="stroke-width:0.95"><path transform="translate(577.20,406.55) scale(1.000,0.917)" d="M0,1.3 L1.5,0 L1.5,6"/><path transform="translate(580.60,406.55) scale(0.917,0.917)" d="M2.9,0 L0.3,0 L0.1,2.6 Q0.6,2.2 1.5,2.2 Q3,2.2 3,4.1 Q3,6 1.5,6 Q0.4,6 0,5.1"/><path transform="translate(585.25,406.55) scale(0.917,0.917)" d="M0,1.4 Q0,0 1.5,0 Q3,0 3,1.4 L3,4.6 Q3,6 1.5,6 Q0,6 0,4.6 Z"/></g>
<line class="l" x1="637.00" y1="423.40" x2="652.00" y2="423.40"/>
<line class="t" x1="637.60" y1="426.60" x2="644.00" y2="420.20"/>
<line class="t" x1="645.00" y1="426.60" x2="651.40" y2="420.20"/>
<polyline class="l" points="644.50,423.40 641.20,415.20 627.00,415.20"/>
<g class="g" style="stroke-width:0.95"><path transform="translate(628.95,407.05) scale(1.000,0.917)" d="M0,1.3 L1.5,0 L1.5,6"/><path transform="translate(632.35,407.05) scale(0.917,0.917)" d="M2.9,0 L0.3,0 L0.1,2.6 Q0.6,2.2 1.5,2.2 Q3,2.2 3,4.1 Q3,6 1.5,6 Q0.4,6 0,5.1"/><path transform="translate(637.00,407.05) scale(0.917,0.917)" d="M0,1.4 Q0,0 1.5,0 Q3,0 3,1.4 L3,4.6 Q3,6 1.5,6 Q0,6 0,4.6 Z"/></g>
<line class="l" x1="609.00" y1="418.00" x2="609.00" y2="458.00"/>
<line class="t" x1="605.80" y1="436.80" x2="612.20" y2="443.20"/>
<line class="t" x1="605.80" y1="451.60" x2="612.20" y2="458.00"/>
<g class="g" style="stroke-width:0.95" transform="translate(606.30,424.40) rotate(-90)"><path transform="translate(-6.03,-5.95) scale(0.917,0.917)" d="M0,0.9 Q0.4,0 1.5,0 Q3,0 3,1.4 Q3,2.8 1.3,2.8 L1.5,2.8 Q3,2.8 3,4.4 Q3,6 1.5,6 Q0.4,6 0,5.1"/><path transform="translate(-1.38,-5.95) scale(0.917,0.917)" d="M0,1.4 Q0,0 1.5,0 Q3,0 3,1.4 L3,4.6 Q3,6 1.5,6 Q0,6 0,4.6 Z"/><path transform="translate(3.28,-5.95) scale(0.917,0.917)" d="M0,1.4 Q0,0 1.5,0 Q3,0 3,1.4 L3,4.6 Q3,6 1.5,6 Q0,6 0,4.6 Z"/></g>
<line class="l" x1="691.90" y1="308.00" x2="691.90" y2="458.00"/>
<line class="t" x1="688.70" y1="308.50" x2="695.10" y2="314.90"/>
<line class="t" x1="688.70" y1="451.60" x2="695.10" y2="458.00"/>
<g class="g" style="stroke-width:0.95" transform="translate(690.30,382.75) rotate(-90)"><path transform="translate(-8.35,-5.95) scale(0.917,0.917)" d="M0,1.3 Q0.2,0 1.5,0 Q3,0 3,1.5 Q3,2.5 2,3.5 L0,6 L3,6"/><path transform="translate(-3.70,-5.95) scale(0.917,0.917)" d="M0.3,5.4 Q0.8,6 1.5,6 Q3,6 3,3 L3,1.7 Q3,0 1.5,0 Q0,0 0,1.8 Q0,3.5 1.5,3.5 Q2.7,3.5 3,2.5"/><path transform="translate(0.95,-5.95) scale(0.917,0.917)" d="M0,1.4 Q0,0 1.5,0 Q3,0 3,1.4 L3,4.6 Q3,6 1.5,6 Q0,6 0,4.6 Z"/><path transform="translate(5.60,-5.95) scale(0.917,0.917)" d="M0,1.4 Q0,0 1.5,0 Q3,0 3,1.4 L3,4.6 Q3,6 1.5,6 Q0,6 0,4.6 Z"/></g>
<line class="l" x1="709.50" y1="166.00" x2="709.50" y2="458.00"/>
<line class="t" x1="706.30" y1="169.10" x2="712.70" y2="175.50"/>
<line class="t" x1="706.30" y1="451.60" x2="712.70" y2="458.00"/>
<g class="g" style="stroke-width:0.95" transform="translate(708.50,313.40) rotate(-90)"><path transform="translate(-8.35,-5.95) scale(0.917,0.917)" d="M2.9,0 L0.3,0 L0.1,2.6 Q0.6,2.2 1.5,2.2 Q3,2.2 3,4.1 Q3,6 1.5,6 Q0.4,6 0,5.1"/><path transform="translate(-3.70,-5.95) scale(0.917,0.917)" d="M0,0 L3,0 L0.9,6"/><path transform="translate(0.95,-5.95) scale(0.917,0.917)" d="M0,0.9 Q0.4,0 1.5,0 Q3,0 3,1.4 Q3,2.8 1.3,2.8 L1.5,2.8 Q3,2.8 3,4.4 Q3,6 1.5,6 Q0.4,6 0,5.1"/><path transform="translate(5.60,-5.95) scale(0.917,0.917)" d="M0,1.4 Q0,0 1.5,0 Q3,0 3,1.4 L3,4.6 Q3,6 1.5,6 Q0,6 0,4.6 Z"/></g>
<line class="l" x1="559.40" y1="454.80" x2="713.00" y2="454.80"/>
<line class="l" x1="559.40" y1="454.80" x2="559.40" y2="512.00"/>
<line class="l" x1="576.70" y1="421.00" x2="576.70" y2="487.00"/>
<line class="l" x1="640.80" y1="420.00" x2="640.80" y2="487.00"/>
<line class="l" x1="569.30" y1="440.00" x2="640.80" y2="440.00"/>
<line class="l" x1="559.40" y1="344.40" x2="569.30" y2="344.40" stroke="#999"/>
<line class="l" x1="559.40" y1="394.00" x2="569.30" y2="394.00" stroke="#999"/>
<g class="g" style="stroke-width:1.2"><path transform="translate(391.62,66.60) scale(1.455,1.333)" d="M0,1.3 L1.5,0 L1.5,6"/><path transform="translate(395.80,66.60) scale(1.133,1.333)" d="M0.6,3.3 L2.4,3.3"/><path transform="translate(401.20,66.60) scale(1.455,1.333)" d="M0,1.3 L1.5,0 L1.5,6"/></g>
</svg>
</body></html>
